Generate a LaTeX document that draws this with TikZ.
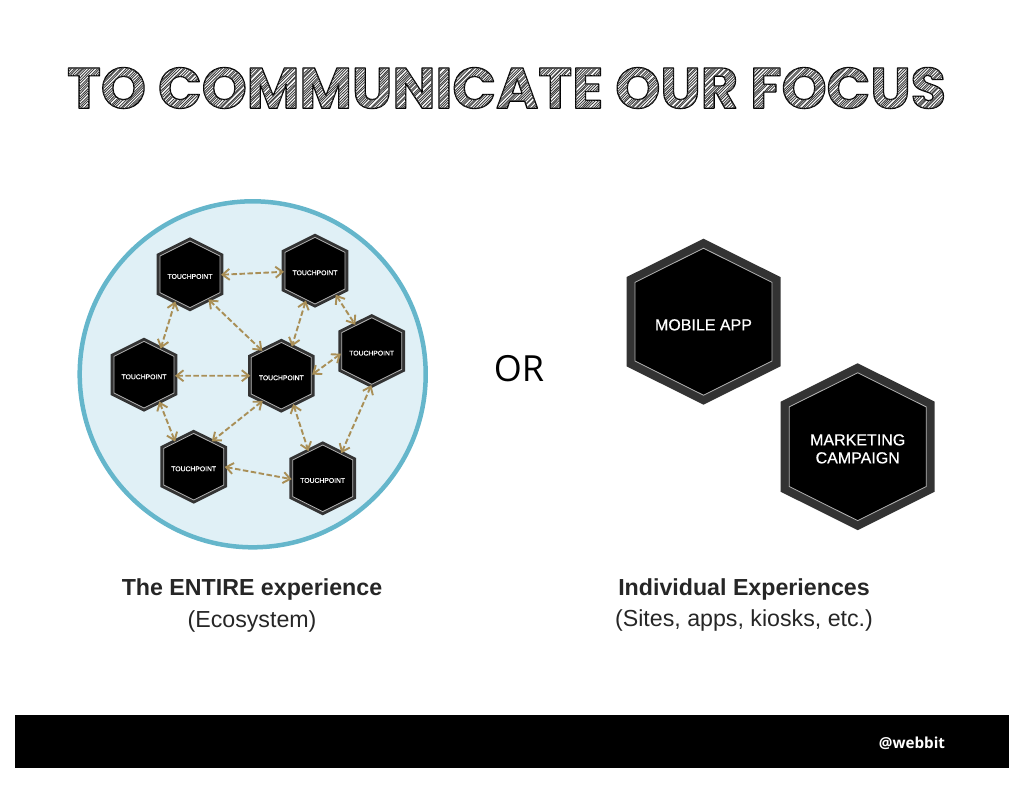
\documentclass[tikz,border=0pt]{standalone}
\usepackage{fontspec}
\setmainfont{Liberation Sans}
\newfontfamily\titlefont{Poppins}
\newfontfamily\notefont{Open Sans}
\newfontfamily\hexfont[FakeBold=0.5]{Liberation Sans}
\usetikzlibrary{shapes.symbols, arrows.meta}
\definecolor{ringblue}{HTML}{65B6CB}
\definecolor{ringfill}{HTML}{E0F0F6}
\definecolor{linkgold}{HTML}{A98F57}
\definecolor{hexdark}{HTML}{333333}
\definecolor{hexline}{HTML}{B5B5B5}

\tikzset{
    hexbase/.style={shape=signal, signal to=north and south, signal pointer angle=127,
        inner sep=0pt, outer sep=0pt, fill=black, text=white, align=center, line width=0.8pt, draw=hexline},
    touch/.style={hexbase, minimum width=60pt, minimum height=59pt, text height=9pt,
        preaction={draw=hexdark, line width=6.6pt},
        font=\hexfont\fontsize{6.8}{8}\selectfont},
    bighex/.style={hexbase, minimum width=137pt, minimum height=127pt,
        preaction={draw=hexdark, line width=17pt},
        font=\hexfont\fontsize{16}{18}\selectfont},
    link/.style={<->, >={Straight Barb[length=7pt, width=11pt]}, dash pattern=on 5.5pt off 2.5pt,
        draw=linkgold, line width=1.9pt, shorten <=1pt, shorten >=1pt},
    caption/.style={text=black!85, font=\fontsize{23.2}{26}\selectfont},
    captionbold/.style={caption, font=\bfseries\fontsize{23.2}{26}\selectfont}
}

\begin{document}
\begin{tikzpicture}[x=1pt, y=-1pt]
    \useasboundingbox (0, 0) rectangle (1024, 792);

    % title
    \node (title) at (506.5, 88) {\titlefont\bfseries\fontsize{57.3}{60}\selectfont
        \special{pdf:code q 5 Tr 1.3 w 1 j}TO COMMUNICATE OUR FOCUS\special{pdf:code 0 Tr}%
        \begin{tikzpicture}[x=1pt, y=1pt, overlay]
            \foreach \i in {0, 2.6, ..., 960} {
                \draw[line width=0.9pt, black!75] (-\i + rnd * 2, -8) -- (-\i + 56 + rnd * 2, 48);
            }
        \end{tikzpicture}%
        \special{pdf:code Q}};

    % ecosystem
    \node[circle, draw=ringblue, fill=ringfill, line width=4.5pt, minimum size=346pt, inner sep=0pt] (ring) at (252.7, 374.3) {};

    \node[touch] (T1) at (190, 274.3) {TOUCHPOINT};
    \node[touch] (T2) at (315, 270.7) {TOUCHPOINT};
    \node[touch] (T3) at (371.7, 351) {TOUCHPOINT};
    \node[touch] (T4) at (144, 374.7) {TOUCHPOINT};
    \node[touch] (T5) at (281.3, 375.7) {TOUCHPOINT};
    \node[touch] (T6) at (193.7, 466.7) {TOUCHPOINT};
    \node[touch] (T7) at (322.7, 478.3) {TOUCHPOINT};

    \draw[link] (T1.359) -- (T2.182);
    \draw[link] (T1.241) -- (T4.57);
    \draw[link] (T1.306) -- (T5.127);
    \draw[link] (T2.253) -- (T5.70);
    \draw[link] (T2.311) -- (T3.122);
    \draw[link] (T3.184) -- (T5.1);
    \draw[link] (T3.270) -- (T7.53);
    \draw[link] (T4.358) -- (T5.180);
    \draw[link] (T4.300) -- (T6.127);
    \draw[link] (T5.234) -- (T6.55);
    \draw[link] (T5.293) -- (T7.118);
    \draw[link] (T6.0) -- (T7.182);

    % single experiences
    \node[bighex, text height=17.5pt] (app) at (703.5, 321.7) {MOBILE APP};
    \node[bighex, text height=33.5pt] (campaign) at (857.7, 446.7) {MARKETING\\CAMPAIGN};

    \node[font=\notefont\fontsize{36}{40}\selectfont] (or) at (519, 369) {OR};

    \node[captionbold] (entire) at (252, 589) {The ENTIRE experience};
    \node[caption] (eco) at (252, 621) {(Ecosystem)};
    \node[captionbold] (single) at (744, 589) {Individual Experiences};
    \node[caption] (sites) at (744, 620) {(Sites, apps, kiosks, etc.)};

    % footer
    \node[fill=black, minimum width=994pt, minimum height=53pt, inner sep=0pt] (bar) at (512, 741.5) {};
    \node[text=white, font=\notefont\bfseries\fontsize{15.2}{18}\selectfont] (handle) at (912, 743) {@webbit};
\end{tikzpicture}
\end{document}
